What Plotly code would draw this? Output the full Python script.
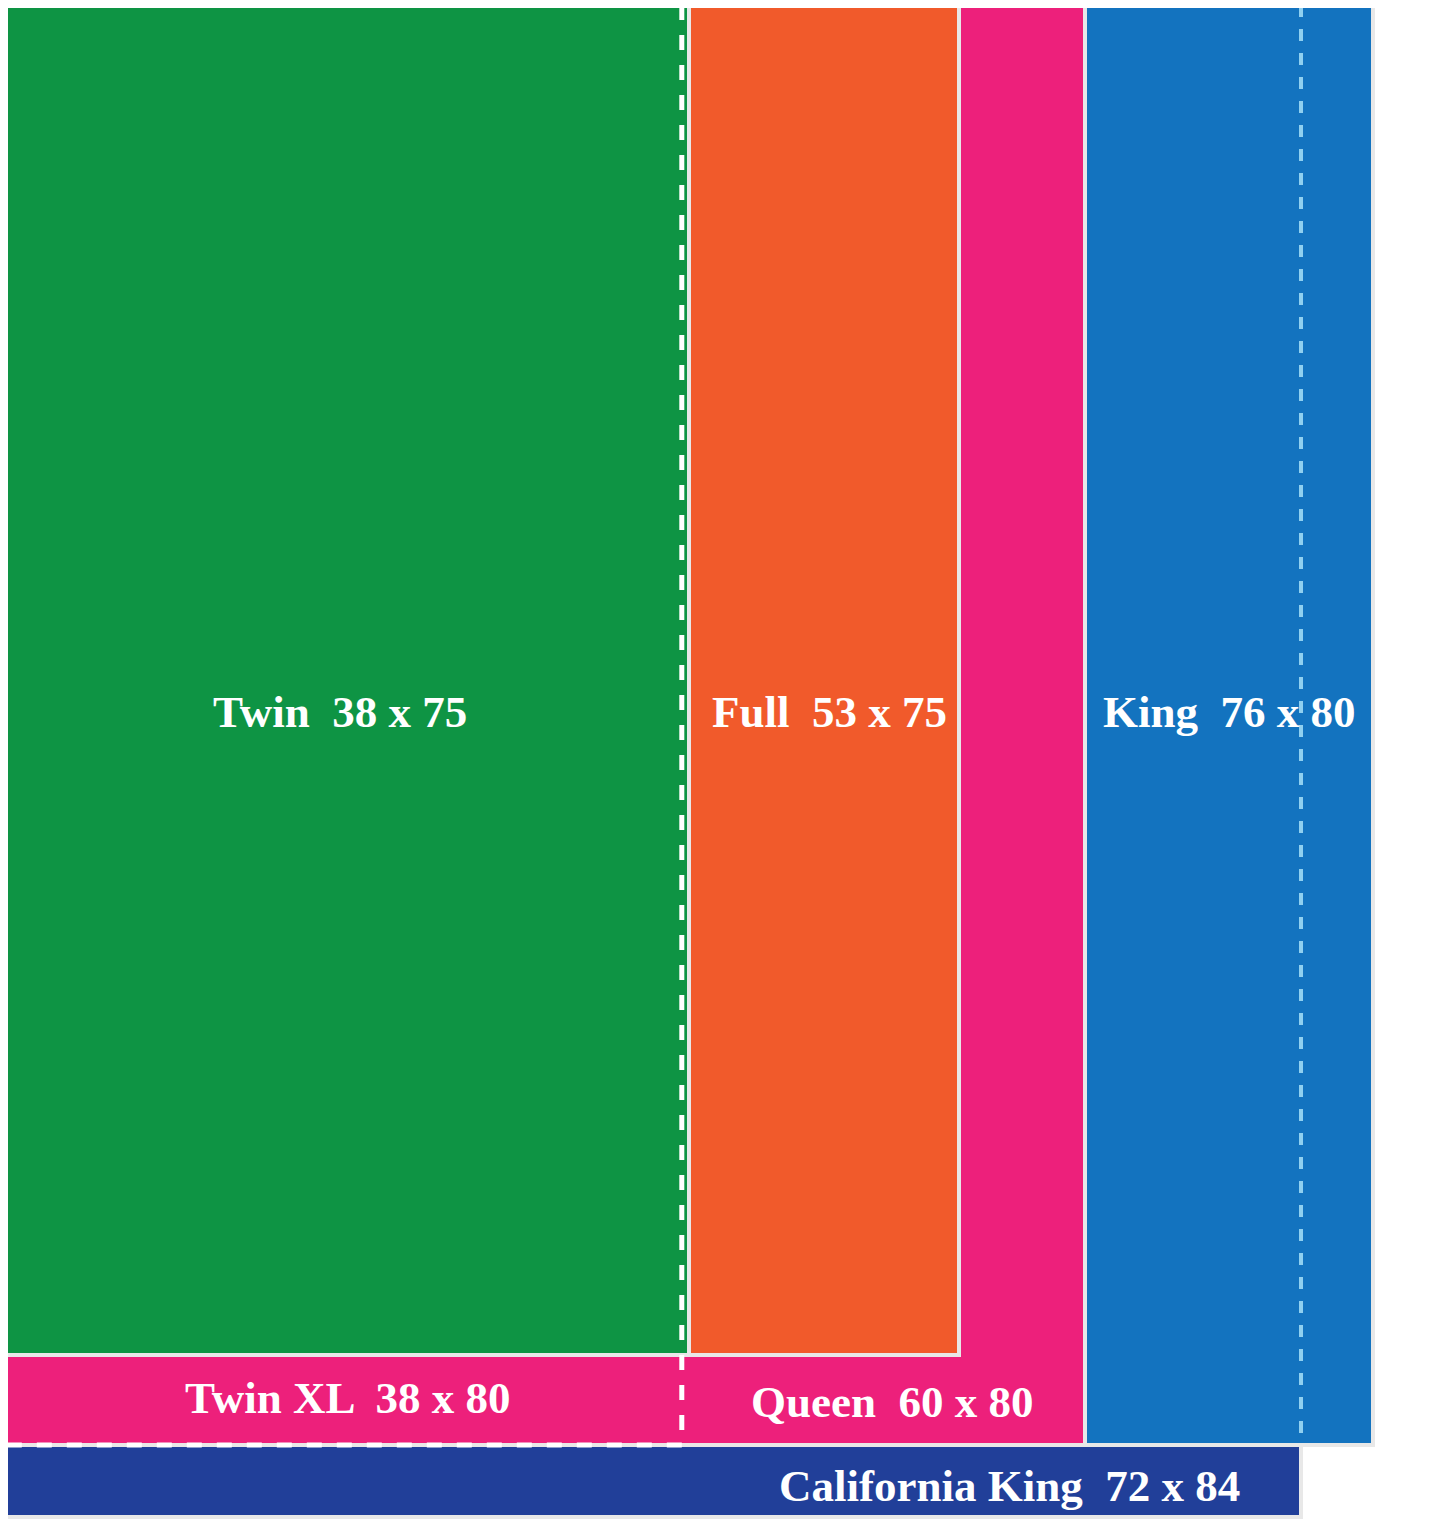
import plotly.graph_objects as go

# mattress sizes (inches): width x length
names = ["California King", "King", "Queen", "Full", "Twin"]
widths = [72, 76, 60, 53, 38]
lengths = [84, 80, 80, 75, 75]
colors = ["#213F99", "#1373BF", "#ED207B", "#F15A2B", "#0E9444"]

twin_xl = (38, 80)

labels = ["Twin  38 x 75", "Full  53 x 75", "King  76 x 80",
          "Twin XL  38 x 80", "Queen  60 x 80", "California King  72 x 84"]
label_x = [18.6, 45.8, 68.0, 19.0, 49.3, 55.8]
label_y = [39.3, 39.3, 39.3, 77.4, 77.6, 82.3]

fig = go.Figure()

for n, w, l, c in zip(names, widths, lengths, colors):
    fig.add_trace(go.Scatter(
        x=[0, w, w, 0, 0], y=[0, 0, l, l, 0],
        fill="toself", fillcolor=c, mode="lines",
        line=dict(color="#e8e8e8", width=4), name=n,
        hoverinfo="name",
    ))

# Twin XL dashed outline
tw, tl = twin_xl
fig.add_trace(go.Scatter(
    x=[tw - 0.4, tw - 0.4, 0], y=[0, tl, tl], mode="lines",
    line=dict(color="white", width=5, dash="dash"), hoverinfo="skip",
))
# California King width marker inside King
fig.add_trace(go.Scatter(
    x=[widths[0], widths[0]], y=[0, lengths[1]], mode="lines",
    line=dict(color="#8FD0F0", width=4, dash="dash"), hoverinfo="skip",
))

for t, x, y in zip(labels, label_x, label_y):
    fig.add_annotation(x=x, y=y, text="<b>" + t + "</b>", showarrow=False,
                       font=dict(family="Liberation Serif", size=45, color="white"))

s = 18.0
fig.update_layout(
    width=1436, height=1536,
    margin=dict(l=0, r=0, t=0, b=0),
    plot_bgcolor="white", paper_bgcolor="white",
    showlegend=False,
    font=dict(family="Liberation Serif"),
)
fig.update_xaxes(range=[3 / s, 1439 / s], visible=False, fixedrange=True)
fig.update_yaxes(range=[1539 / s, 3 / s], visible=False, fixedrange=True)
fig.write_html("out.html")
